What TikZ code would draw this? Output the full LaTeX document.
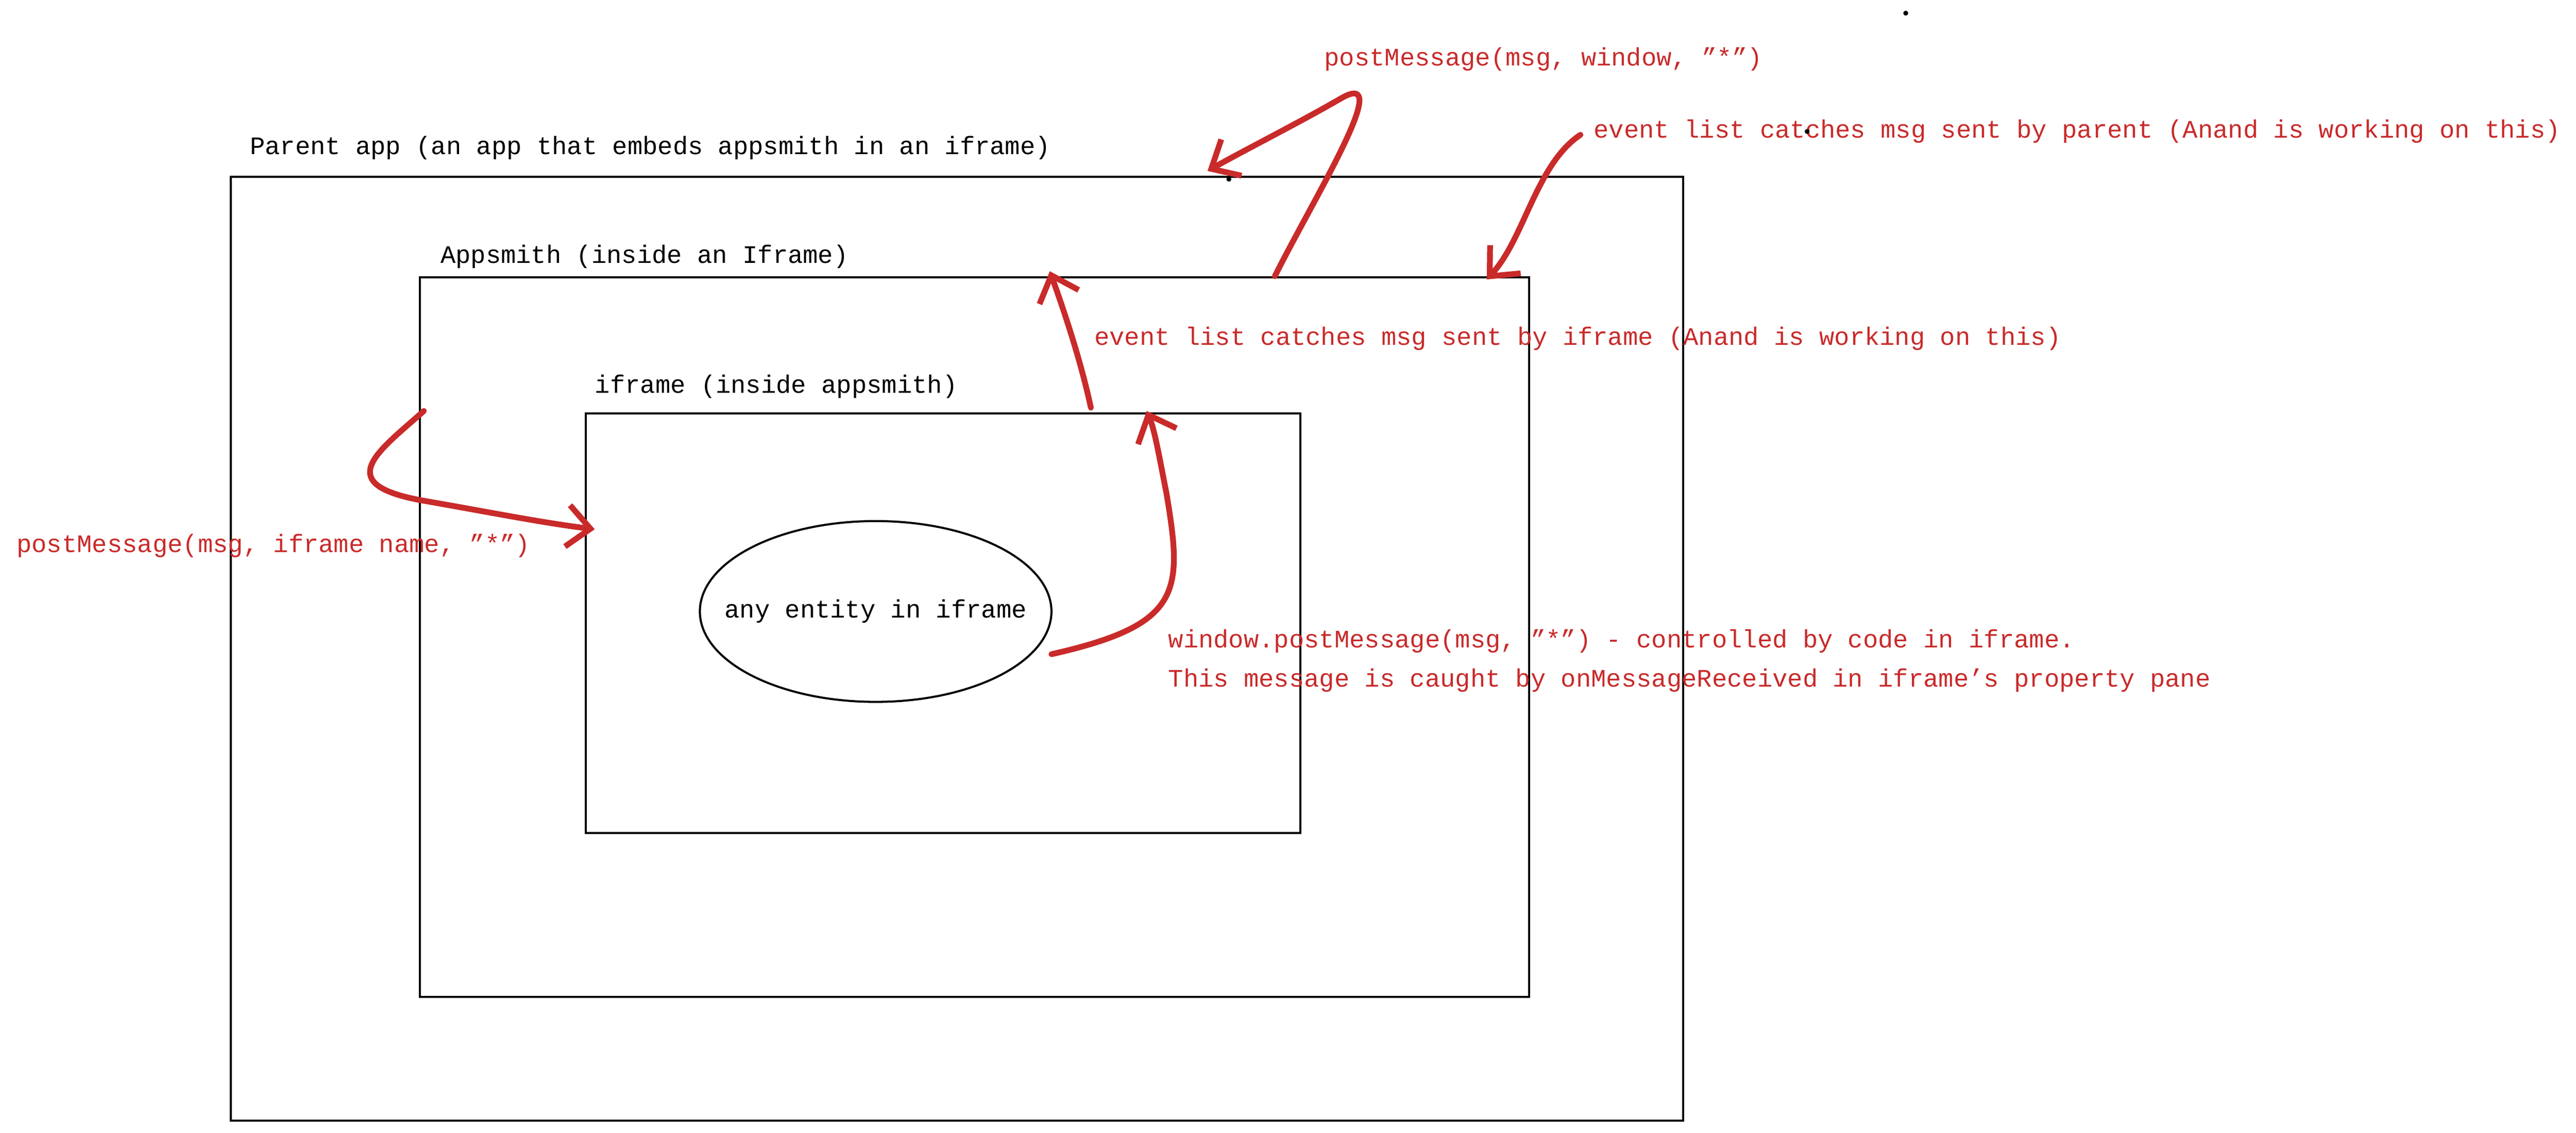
\documentclass[tikz,border=0pt]{standalone}
\usepackage{fontspec}
\setmainfont{Liberation Mono}
\usetikzlibrary{arrows.meta}
\definecolor{red1}{HTML}{C92A2A}
\newcommand{\dq}{\symbol{34}}
\begin{document}
\begin{tikzpicture}[x=0.05cm,y=-0.05cm,
  box/.style={draw=black,line width=1.8pt},
  lbl/.style={font=\fontsize{21.8}{26}\selectfont,anchor=west,inner sep=0pt},
  rlbl/.style={lbl,text=red1},
  rarr/.style={draw=red1,line width=5pt,line cap=round,-{Straight Barb[length=20pt,width=36pt,line width=5pt]}}]
\useasboundingbox (0,0) rectangle (1568,689);
\node[box,minimum width=884*0.05cm,minimum height=574*0.05cm,anchor=north west] (outer) at (140,107) {};
\node[box,minimum width=675*0.05cm,minimum height=438*0.05cm,anchor=north west] (apps) at (255,168) {};
\node[box,minimum width=435*0.05cm,minimum height=255*0.05cm,anchor=north west] (ifr) at (356,251) {};
\draw[line width=1.8pt] (533,372) ellipse (107 and 55);
\node[lbl,anchor=center] (ent) at (533,372) {any entity in iframe};
\node[lbl] (t1) at (152,90) {Parent app (an app that embeds appsmith in an iframe)};
\node[lbl] (t2) at (268,156) {Appsmith (inside an Iframe)};
\node[lbl] (t3) at (362,235) {iframe (inside appsmith)};
\node[rlbl] (r1) at (806,36) {postMessage(msg, window, \dq*\dq)};
\node[rlbl] (r2) at (970,80) {event list catches msg sent by parent (Anand is working on this)};
\node[rlbl] (r3) at (666,206) {event list catches msg sent by iframe (Anand is working on this)};
\node[rlbl] (r4) at (10,332) {postMessage(msg, iframe name, \dq*\dq)};
\node[rlbl] (r5) at (711,390) {window.postMessage(msg, \dq*\dq) - controlled by code in iframe.};
\node[rlbl] (r6) at (711,414) {This message is caught by onMessageReceived in iframe's property pane};
\coordinate (a1s) at (776,168); \coordinate (a1e) at (735,104);
\draw[rarr] (a1s) .. controls (800,120) and (850,40) .. (816,60) .. controls (790,75) and (760,90) .. (a1e);
\coordinate (a2s) at (962,82); \coordinate (a2e) at (905,170);
\draw[rarr] (a2s) .. controls (935,100) and (928,145) .. (a2e);
\coordinate (a3s) at (664,248); \coordinate (a3e) at (639,165);
\draw[rarr] (a3s) .. controls (658,220) and (648,190) .. (a3e);
\coordinate (a4s) at (258,250); \coordinate (a4e) at (362,322);
\draw[rarr] (a4s) .. controls (230,275) and (200,295) .. (260,305) .. controls (300,312) and (330,318) .. (a4e);
\coordinate (a5s) at (640,398); \coordinate (a5e) at (698,250);
\draw[rarr] (a5s) .. controls (720,380) and (720,360) .. (710,300) .. controls (706,280) and (703,262) .. (a5e);
\fill (1160,8) circle (1.5); \fill (748,109) circle (1.5); \fill (1100,80) circle (1.5);
\end{tikzpicture}
\end{document}
